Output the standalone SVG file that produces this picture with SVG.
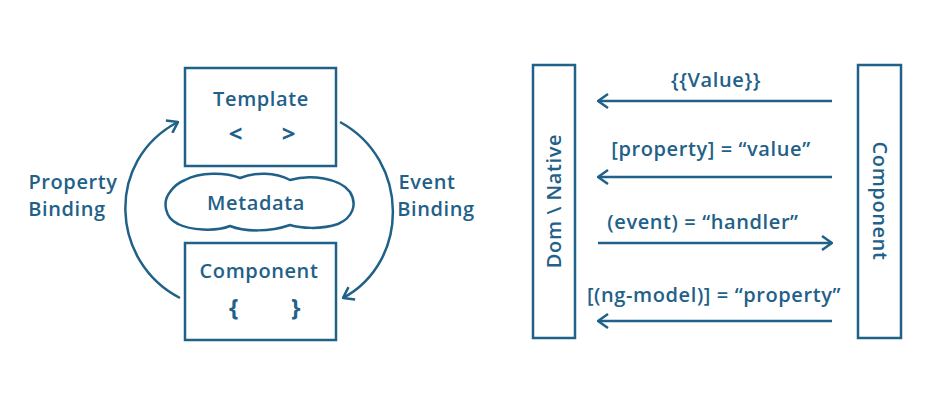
<svg xmlns="http://www.w3.org/2000/svg" width="930" height="407" viewBox="0 0 930 407">
<style>
.s{fill:none;stroke:#1f6188;stroke-width:2.5}
.t{fill:#1f6188;font-family:"Open Sans","DejaVu Sans",sans-serif;font-weight:600;font-size:20px;letter-spacing:0.6px;text-anchor:middle}
.b{font-size:24px;font-weight:700}
</style>
<defs>
<marker id="a" viewBox="0 0 12 16" refX="11" refY="8" markerWidth="12" markerHeight="16" markerUnits="userSpaceOnUse" orient="auto"><path d="M1,1 L11,8 L1,15" fill="none" stroke="#1f6188" stroke-width="2.5"/></marker>
</defs>
<rect width="930" height="407" fill="#fff"/>
<g id="template"><rect class="s" x="185" y="68" width="151" height="98"/><text class="t" x="261" y="106">Template</text><text class="t b" x="236" y="142">&lt;</text><text class="t b" x="289" y="142">&gt;</text></g>
<g id="component"><rect class="s" x="185" y="243" width="151" height="97"/><text class="t" x="259" y="278">Component</text><text class="t b" x="234" y="316">{</text><text class="t b" x="296" y="316">}</text></g>
<g id="metadata"><path class="s" d="M185,180 C200,172 225,172 240,178 C255,172 275,172 290,180 C310,174 340,178 350,192 C358,205 352,218 338,224 C320,230 300,228 290,225 C270,232 245,232 230,226 C215,232 190,230 178,224 C165,218 162,202 170,192 C174,186 180,182 185,180 Z"/><text class="t" x="256" y="210">Metadata</text></g>
<g id="pb"><text class="t" x="73" y="189">Property</text><text class="t" x="67" y="216">Binding</text></g>
<g id="eb"><text class="t" x="427" y="189">Event</text><text class="t" x="436" y="216">Binding</text></g>
<g id="dom"><rect class="s" x="533" y="65" width="42" height="273"/><text class="t" transform="translate(561,201) rotate(-90)">Dom \ Native</text></g>
<g id="comp2"><rect class="s" x="858" y="65" width="43" height="273"/><text class="t" transform="translate(873,201) rotate(90)">Component</text></g>
<g id="labels"><text class="t" x="716" y="87">{{Value}}</text><text class="t" x="711" y="156">[property] = “value”</text><text class="t" x="703" y="229">(event) = “handler”</text><text class="t" x="714" y="302">[(ng-model)] = “property”</text></g>
<g id="connectors">
<path class="s" d="M180,298 C110,262 105,160 178,122" marker-end="url(#a)"/>
<path class="s" d="M340,122 C410,160 410,262 343,298" marker-end="url(#a)"/>
<path class="s" d="M832,101 H598" marker-end="url(#a)"/>
<path class="s" d="M832,177 H598" marker-end="url(#a)"/>
<path class="s" d="M598,243 H832" marker-end="url(#a)"/>
<path class="s" d="M832,321 H598" marker-end="url(#a)"/>
</g>
</svg>
